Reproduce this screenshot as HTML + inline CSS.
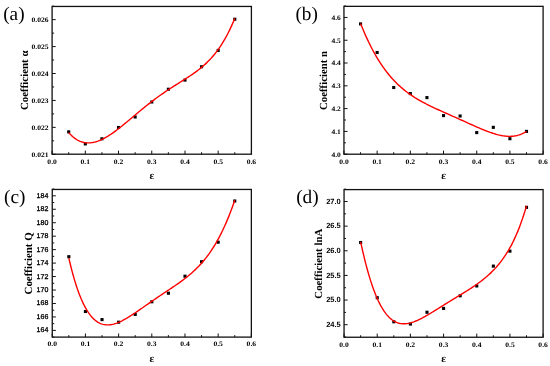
<!DOCTYPE html>
<html><head><meta charset="utf-8"><title>Coefficients vs strain</title><style>
html,body{margin:0;padding:0;background:#fff;width:550px;height:366px;overflow:hidden;}
svg{display:block;}
text{text-rendering:geometricPrecision;fill:#000;}
rect{fill:#000;}
.fr{fill:none;stroke:#111;stroke-width:1.3;}
.tk{fill:none;stroke:#111;stroke-width:1;}
.cv{fill:none;stroke:#ff0000;stroke-width:1.4;stroke-linejoin:round;}
.xt{font-family:'Liberation Serif', 'Times New Roman', serif;font-weight:bold;font-size:6.8px;text-anchor:middle;}
.yt{text-anchor:end;}
.xl{font-family:'Liberation Serif', 'Times New Roman', serif;font-weight:bold;font-size:11px;text-anchor:middle;}
.yl{font-family:'Liberation Serif', 'Times New Roman', serif;font-weight:bold;text-anchor:middle;}
.pl{font-family:'Liberation Serif', 'Times New Roman', serif;font-size:19.3px;}
</style></head><body>
<svg width="550" height="366" viewBox="0 0 550 366">
<rect width="550" height="366" style="fill:#fff"/>
<g>
<rect x="67.16" y="130.3" width="3.1" height="3.1"/>
<rect x="83.77" y="142.35" width="3.1" height="3.1"/>
<rect x="100.38" y="137.25" width="3.1" height="3.1"/>
<rect x="116.98" y="125.95" width="3.1" height="3.1"/>
<rect x="133.59" y="115.45" width="3.1" height="3.1"/>
<rect x="150.2" y="100.45" width="3.1" height="3.1"/>
<rect x="166.81" y="87.7" width="3.1" height="3.1"/>
<rect x="183.42" y="78.55" width="3.1" height="3.1"/>
<rect x="200.03" y="65.2" width="3.1" height="3.1"/>
<rect x="216.63" y="48.85" width="3.1" height="3.1"/>
<rect x="233.24" y="17.65" width="3.1" height="3.1"/>
<path class="cv" d="M68.71,132.65 L69.75,133.8 L70.8,134.87 L71.84,135.87 L72.89,136.79 L73.93,137.64 L74.98,138.42 L76.02,139.13 L77.06,139.78 L78.11,140.36 L79.15,140.87 L80.2,141.32 L81.24,141.72 L82.29,142.05 L83.33,142.33 L84.38,142.55 L85.42,142.72 L86.47,142.83 L87.51,142.9 L88.55,142.91 L89.6,142.88 L90.64,142.81 L91.69,142.68 L92.73,142.52 L93.78,142.31 L94.82,142.07 L95.87,141.78 L96.91,141.46 L97.96,141.1 L99,140.71 L100.04,140.28 L101.09,139.83 L102.13,139.34 L103.18,138.83 L104.22,138.28 L105.27,137.71 L106.31,137.12 L107.36,136.5 L108.4,135.86 L109.45,135.19 L110.49,134.51 L111.53,133.81 L112.58,133.09 L113.62,132.35 L114.67,131.6 L115.71,130.83 L116.76,130.05 L117.8,129.25 L118.85,128.45 L119.89,127.63 L120.94,126.8 L121.98,125.97 L123.02,125.12 L124.07,124.27 L125.11,123.41 L126.16,122.55 L127.2,121.68 L128.25,120.81 L129.29,119.94 L130.34,119.06 L131.38,118.18 L132.43,117.31 L133.47,116.43 L134.51,115.55 L135.56,114.67 L136.6,113.79 L137.65,112.92 L138.69,112.05 L139.74,111.18 L140.78,110.32 L141.83,109.46 L142.87,108.6 L143.92,107.75 L144.96,106.9 L146,106.06 L147.05,105.23 L148.09,104.4 L149.14,103.58 L150.18,102.76 L151.23,101.96 L152.27,101.16 L153.32,100.36 L154.36,99.58 L155.41,98.8 L156.45,98.03 L157.5,97.26 L158.54,96.51 L159.58,95.76 L160.63,95.02 L161.67,94.28 L162.72,93.56 L163.76,92.84 L164.81,92.12 L165.85,91.42 L166.9,90.72 L167.94,90.02 L168.99,89.33 L170.03,88.65 L171.07,87.97 L172.12,87.3 L173.16,86.63 L174.21,85.96 L175.25,85.3 L176.3,84.64 L177.34,83.98 L178.39,83.32 L179.43,82.67 L180.48,82.01 L181.52,81.36 L182.56,80.7 L183.61,80.04 L184.65,79.37 L185.7,78.71 L186.74,78.03 L187.79,77.35 L188.83,76.67 L189.88,75.98 L190.92,75.27 L191.97,74.56 L193.01,73.84 L194.05,73.11 L195.1,72.36 L196.14,71.6 L197.19,70.82 L198.23,70.02 L199.28,69.21 L200.32,68.37 L201.37,67.52 L202.41,66.64 L203.46,65.74 L204.5,64.81 L205.54,63.86 L206.59,62.87 L207.63,61.86 L208.68,60.81 L209.72,59.73 L210.77,58.61 L211.81,57.46 L212.86,56.26 L213.9,55.03 L214.95,53.75 L215.99,52.42 L217.03,51.05 L218.08,49.63 L219.12,48.16 L220.17,46.63 L221.21,45.05 L222.26,43.41 L223.3,41.71 L224.35,39.95 L225.39,38.12 L226.44,36.22 L227.48,34.26 L228.52,32.22 L229.57,30.11 L230.61,27.92 L231.66,25.65 L232.7,23.3 L233.75,20.86 L234.79,18.33"/>
<path class="tk" d="M52.1,154.2V150.6 M68.71,154.2V152.2 M85.32,154.2V150.6 M101.93,154.2V152.2 M118.53,154.2V150.6 M135.14,154.2V152.2 M151.75,154.2V150.6 M168.36,154.2V152.2 M184.97,154.2V150.6 M201.58,154.2V152.2 M218.18,154.2V150.6 M234.79,154.2V152.2 M251.4,154.2V150.6 M52.1,154.3H55.7 M52.1,140.83H54.1 M52.1,127.37H55.7 M52.1,113.91H54.1 M52.1,100.44H55.7 M52.1,86.98H54.1 M52.1,73.51H55.7 M52.1,60.04H54.1 M52.1,46.58H55.7 M52.1,33.11H54.1 M52.1,19.65H55.7 M52.1,6.18H54.1"/>
<rect class="fr" x="52.1" y="6.45" width="199.3" height="147.75"/>
<text transform="translate(52.1,163.5) scale(1.12,1)" class="xt">0.0</text>
<text transform="translate(85.32,163.5) scale(1.12,1)" class="xt">0.1</text>
<text transform="translate(118.53,163.5) scale(1.12,1)" class="xt">0.2</text>
<text transform="translate(151.75,163.5) scale(1.12,1)" class="xt">0.3</text>
<text transform="translate(184.97,163.5) scale(1.12,1)" class="xt">0.4</text>
<text transform="translate(218.18,163.5) scale(1.12,1)" class="xt">0.5</text>
<text transform="translate(251.4,163.5) scale(1.12,1)" class="xt">0.6</text>
<text transform="translate(48.6,156.5) scale(1.12,1)" class="yt" style="font-family:'Liberation Serif', 'Times New Roman', serif;font-weight:bold;font-size:6.8px">0.021</text>
<text transform="translate(48.6,129.57) scale(1.12,1)" class="yt" style="font-family:'Liberation Serif', 'Times New Roman', serif;font-weight:bold;font-size:6.8px">0.022</text>
<text transform="translate(48.6,102.64) scale(1.12,1)" class="yt" style="font-family:'Liberation Serif', 'Times New Roman', serif;font-weight:bold;font-size:6.8px">0.023</text>
<text transform="translate(48.6,75.71) scale(1.12,1)" class="yt" style="font-family:'Liberation Serif', 'Times New Roman', serif;font-weight:bold;font-size:6.8px">0.024</text>
<text transform="translate(48.6,48.78) scale(1.12,1)" class="yt" style="font-family:'Liberation Serif', 'Times New Roman', serif;font-weight:bold;font-size:6.8px">0.025</text>
<text transform="translate(48.6,21.85) scale(1.12,1)" class="yt" style="font-family:'Liberation Serif', 'Times New Roman', serif;font-weight:bold;font-size:6.8px">0.026</text>
<text x="151.75" y="179.2" class="xl">ε</text>
<text transform="translate(27.8,80.32) rotate(-90)" class="yl" style="font-size:10.9px">Coefficient α</text>
<text x="3.2" y="19.9" class="pl">(a)</text>
</g>
<g>
<rect x="359" y="22.35" width="3.1" height="3.1"/>
<rect x="375.59" y="50.95" width="3.1" height="3.1"/>
<rect x="392.19" y="85.95" width="3.1" height="3.1"/>
<rect x="408.78" y="92.05" width="3.1" height="3.1"/>
<rect x="425.38" y="96.05" width="3.1" height="3.1"/>
<rect x="441.98" y="114.05" width="3.1" height="3.1"/>
<rect x="458.57" y="114.45" width="3.1" height="3.1"/>
<rect x="475.17" y="131.05" width="3.1" height="3.1"/>
<rect x="491.76" y="125.8" width="3.1" height="3.1"/>
<rect x="508.36" y="137.15" width="3.1" height="3.1"/>
<rect x="524.95" y="129.85" width="3.1" height="3.1"/>
<path class="cv" d="M360.55,23.46 L361.59,26.06 L362.63,28.6 L363.68,31.08 L364.72,33.5 L365.76,35.85 L366.81,38.15 L367.85,40.38 L368.9,42.56 L369.94,44.68 L370.98,46.75 L372.03,48.76 L373.07,50.72 L374.11,52.63 L375.16,54.49 L376.2,56.3 L377.25,58.06 L378.29,59.77 L379.33,61.44 L380.38,63.06 L381.42,64.63 L382.46,66.16 L383.51,67.65 L384.55,69.1 L385.6,70.51 L386.64,71.88 L387.68,73.21 L388.73,74.51 L389.77,75.77 L390.81,76.99 L391.86,78.18 L392.9,79.34 L393.95,80.46 L394.99,81.55 L396.03,82.61 L397.08,83.65 L398.12,84.65 L399.17,85.63 L400.21,86.57 L401.25,87.5 L402.3,88.4 L403.34,89.27 L404.38,90.12 L405.43,90.95 L406.47,91.76 L407.52,92.55 L408.56,93.31 L409.6,94.06 L410.65,94.79 L411.69,95.5 L412.73,96.19 L413.78,96.87 L414.82,97.54 L415.87,98.18 L416.91,98.82 L417.95,99.44 L419,100.05 L420.04,100.64 L421.08,101.23 L422.13,101.8 L423.17,102.37 L424.22,102.92 L425.26,103.47 L426.3,104 L427.35,104.53 L428.39,105.06 L429.43,105.57 L430.48,106.08 L431.52,106.58 L432.57,107.08 L433.61,107.58 L434.65,108.06 L435.7,108.55 L436.74,109.03 L437.78,109.51 L438.83,109.99 L439.87,110.46 L440.92,110.93 L441.96,111.4 L443,111.87 L444.05,112.33 L445.09,112.8 L446.13,113.26 L447.18,113.73 L448.22,114.19 L449.27,114.66 L450.31,115.12 L451.35,115.59 L452.4,116.05 L453.44,116.52 L454.48,116.98 L455.53,117.45 L456.57,117.92 L457.62,118.39 L458.66,118.85 L459.7,119.32 L460.75,119.79 L461.79,120.26 L462.83,120.73 L463.88,121.21 L464.92,121.68 L465.97,122.15 L467.01,122.62 L468.05,123.09 L469.1,123.56 L470.14,124.03 L471.18,124.5 L472.23,124.97 L473.27,125.43 L474.32,125.9 L475.36,126.36 L476.4,126.82 L477.45,127.27 L478.49,127.72 L479.53,128.17 L480.58,128.61 L481.62,129.05 L482.67,129.48 L483.71,129.91 L484.75,130.33 L485.8,130.74 L486.84,131.15 L487.88,131.54 L488.93,131.93 L489.97,132.3 L491.02,132.67 L492.06,133.02 L493.1,133.36 L494.15,133.69 L495.19,134 L496.24,134.3 L497.28,134.58 L498.32,134.85 L499.37,135.09 L500.41,135.32 L501.45,135.53 L502.5,135.72 L503.54,135.88 L504.59,136.02 L505.63,136.14 L506.67,136.23 L507.72,136.3 L508.76,136.34 L509.8,136.34 L510.85,136.32 L511.89,136.27 L512.94,136.18 L513.98,136.06 L515.02,135.9 L516.07,135.7 L517.11,135.47 L518.15,135.19 L519.2,134.87 L520.24,134.51 L521.29,134.1 L522.33,133.65 L523.37,133.15 L524.42,132.59 L525.46,131.99 L526.5,131.33"/>
<path class="tk" d="M343.95,154.2V150.6 M360.55,154.2V152.2 M377.14,154.2V150.6 M393.74,154.2V152.2 M410.33,154.2V150.6 M426.93,154.2V152.2 M443.53,154.2V150.6 M460.12,154.2V152.2 M476.72,154.2V150.6 M493.31,154.2V152.2 M509.91,154.2V150.6 M526.5,154.2V152.2 M543.1,154.2V150.6 M343.95,154.2H347.55 M343.95,142.8H345.95 M343.95,131.41H347.55 M343.95,120.01H345.95 M343.95,108.62H347.55 M343.95,97.22H345.95 M343.95,85.82H347.55 M343.95,74.43H345.95 M343.95,63.03H347.55 M343.95,51.64H345.95 M343.95,40.24H347.55 M343.95,28.85H345.95 M343.95,17.45H347.55 M343.95,6.05H345.95"/>
<rect class="fr" x="343.95" y="6.35" width="199.15" height="147.85"/>
<text transform="translate(343.95,163.5) scale(1.12,1)" class="xt">0.0</text>
<text transform="translate(377.14,163.5) scale(1.12,1)" class="xt">0.1</text>
<text transform="translate(410.33,163.5) scale(1.12,1)" class="xt">0.2</text>
<text transform="translate(443.53,163.5) scale(1.12,1)" class="xt">0.3</text>
<text transform="translate(476.72,163.5) scale(1.12,1)" class="xt">0.4</text>
<text transform="translate(509.91,163.5) scale(1.12,1)" class="xt">0.5</text>
<text transform="translate(543.1,163.5) scale(1.12,1)" class="xt">0.6</text>
<text transform="translate(340.8,156.5) scale(1.1,1)" class="yt" style="font-family:'Liberation Serif', 'Times New Roman', serif;font-weight:bold;font-size:6.8px">4.0</text>
<text transform="translate(340.8,133.71) scale(1.1,1)" class="yt" style="font-family:'Liberation Serif', 'Times New Roman', serif;font-weight:bold;font-size:6.8px">4.1</text>
<text transform="translate(340.8,110.92) scale(1.1,1)" class="yt" style="font-family:'Liberation Serif', 'Times New Roman', serif;font-weight:bold;font-size:6.8px">4.2</text>
<text transform="translate(340.8,88.12) scale(1.1,1)" class="yt" style="font-family:'Liberation Serif', 'Times New Roman', serif;font-weight:bold;font-size:6.8px">4.3</text>
<text transform="translate(340.8,65.33) scale(1.1,1)" class="yt" style="font-family:'Liberation Serif', 'Times New Roman', serif;font-weight:bold;font-size:6.8px">4.4</text>
<text transform="translate(340.8,42.54) scale(1.1,1)" class="yt" style="font-family:'Liberation Serif', 'Times New Roman', serif;font-weight:bold;font-size:6.8px">4.5</text>
<text transform="translate(340.8,19.75) scale(1.1,1)" class="yt" style="font-family:'Liberation Serif', 'Times New Roman', serif;font-weight:bold;font-size:6.8px">4.6</text>
<text x="443.52" y="179.2" class="xl">ε</text>
<text transform="translate(327.3,80.47) rotate(-90)" class="yl" style="font-size:10.8px">Coefficient n</text>
<text x="295.4" y="19.9" class="pl">(b)</text>
</g>
<g>
<rect x="67.29" y="255.15" width="3.1" height="3.1"/>
<rect x="83.88" y="309.95" width="3.1" height="3.1"/>
<rect x="100.48" y="318.05" width="3.1" height="3.1"/>
<rect x="117.07" y="320.65" width="3.1" height="3.1"/>
<rect x="133.66" y="312.85" width="3.1" height="3.1"/>
<rect x="150.25" y="300.25" width="3.1" height="3.1"/>
<rect x="166.84" y="291.65" width="3.1" height="3.1"/>
<rect x="183.43" y="274.65" width="3.1" height="3.1"/>
<rect x="200.02" y="260.15" width="3.1" height="3.1"/>
<rect x="216.62" y="240.65" width="3.1" height="3.1"/>
<rect x="233.21" y="199.45" width="3.1" height="3.1"/>
<path class="cv" d="M68.84,258.04 L69.89,262.51 L70.93,266.78 L71.97,270.84 L73.02,274.71 L74.06,278.39 L75.1,281.89 L76.15,285.21 L77.19,288.35 L78.23,291.33 L79.28,294.14 L80.32,296.8 L81.36,299.31 L82.41,301.66 L83.45,303.88 L84.49,305.95 L85.54,307.9 L86.58,309.71 L87.62,311.4 L88.67,312.96 L89.71,314.41 L90.76,315.75 L91.8,316.98 L92.84,318.1 L93.89,319.13 L94.93,320.06 L95.97,320.89 L97.02,321.64 L98.06,322.3 L99.1,322.87 L100.15,323.37 L101.19,323.8 L102.23,324.15 L103.28,324.43 L104.32,324.64 L105.36,324.79 L106.41,324.88 L107.45,324.92 L108.49,324.9 L109.54,324.82 L110.58,324.7 L111.63,324.53 L112.67,324.32 L113.71,324.06 L114.76,323.76 L115.8,323.43 L116.84,323.06 L117.89,322.66 L118.93,322.23 L119.97,321.77 L121.02,321.28 L122.06,320.77 L123.1,320.23 L124.15,319.67 L125.19,319.09 L126.23,318.49 L127.28,317.88 L128.32,317.25 L129.36,316.61 L130.41,315.95 L131.45,315.28 L132.5,314.6 L133.54,313.91 L134.58,313.22 L135.63,312.52 L136.67,311.81 L137.71,311.09 L138.76,310.37 L139.8,309.65 L140.84,308.93 L141.89,308.2 L142.93,307.48 L143.97,306.75 L145.02,306.02 L146.06,305.29 L147.1,304.56 L148.15,303.84 L149.19,303.11 L150.23,302.39 L151.28,301.67 L152.32,300.95 L153.37,300.24 L154.41,299.52 L155.45,298.81 L156.5,298.1 L157.54,297.4 L158.58,296.69 L159.63,295.99 L160.67,295.29 L161.71,294.59 L162.76,293.9 L163.8,293.2 L164.84,292.51 L165.89,291.81 L166.93,291.12 L167.97,290.43 L169.02,289.73 L170.06,289.04 L171.1,288.34 L172.15,287.64 L173.19,286.93 L174.24,286.22 L175.28,285.51 L176.32,284.79 L177.37,284.07 L178.41,283.34 L179.45,282.6 L180.5,281.85 L181.54,281.09 L182.58,280.32 L183.63,279.54 L184.67,278.75 L185.71,277.94 L186.76,277.12 L187.8,276.28 L188.84,275.43 L189.89,274.55 L190.93,273.66 L191.97,272.75 L193.02,271.82 L194.06,270.86 L195.11,269.88 L196.15,268.87 L197.19,267.84 L198.24,266.77 L199.28,265.68 L200.32,264.56 L201.37,263.41 L202.41,262.22 L203.45,260.99 L204.5,259.73 L205.54,258.43 L206.58,257.1 L207.63,255.72 L208.67,254.3 L209.71,252.83 L210.76,251.32 L211.8,249.76 L212.84,248.15 L213.89,246.5 L214.93,244.79 L215.98,243.03 L217.02,241.21 L218.06,239.33 L219.11,237.4 L220.15,235.41 L221.19,233.35 L222.24,231.24 L223.28,229.05 L224.32,226.8 L225.37,224.49 L226.41,222.1 L227.45,219.64 L228.5,217.11 L229.54,214.5 L230.58,211.82 L231.63,209.06 L232.67,206.22 L233.71,203.29 L234.76,200.29"/>
<path class="tk" d="M52.25,337.1V333.5 M68.84,337.1V335.1 M85.43,337.1V333.5 M102.03,337.1V335.1 M118.62,337.1V333.5 M135.21,337.1V335.1 M151.8,337.1V333.5 M168.39,337.1V335.1 M184.98,337.1V333.5 M201.57,337.1V335.1 M218.17,337.1V333.5 M234.76,337.1V335.1 M251.35,337.1V333.5 M52.25,337.13H54.25 M52.25,330.4H55.85 M52.25,323.67H54.25 M52.25,316.94H55.85 M52.25,310.21H54.25 M52.25,303.48H55.85 M52.25,296.75H54.25 M52.25,290.02H55.85 M52.25,283.29H54.25 M52.25,276.56H55.85 M52.25,269.83H54.25 M52.25,263.1H55.85 M52.25,256.37H54.25 M52.25,249.64H55.85 M52.25,242.91H54.25 M52.25,236.18H55.85 M52.25,229.45H54.25 M52.25,222.72H55.85 M52.25,215.99H54.25 M52.25,209.26H55.85 M52.25,202.53H54.25 M52.25,195.8H55.85 M52.25,189.07H54.25"/>
<rect class="fr" x="52.25" y="189.45" width="199.1" height="147.65"/>
<text transform="translate(52.25,346.4) scale(1.12,1)" class="xt">0.0</text>
<text transform="translate(85.43,346.4) scale(1.12,1)" class="xt">0.1</text>
<text transform="translate(118.62,346.4) scale(1.12,1)" class="xt">0.2</text>
<text transform="translate(151.8,346.4) scale(1.12,1)" class="xt">0.3</text>
<text transform="translate(184.98,346.4) scale(1.12,1)" class="xt">0.4</text>
<text transform="translate(218.17,346.4) scale(1.12,1)" class="xt">0.5</text>
<text transform="translate(251.35,346.4) scale(1.12,1)" class="xt">0.6</text>
<text transform="translate(48.3,332.4) scale(1.0,1)" class="yt" style="font-family:'Liberation Sans', Arial, sans-serif;font-weight:normal;font-size:7.0px;stroke:#000;stroke-width:0.3">164</text>
<text transform="translate(48.3,318.94) scale(1.0,1)" class="yt" style="font-family:'Liberation Sans', Arial, sans-serif;font-weight:normal;font-size:7.0px;stroke:#000;stroke-width:0.3">166</text>
<text transform="translate(48.3,305.48) scale(1.0,1)" class="yt" style="font-family:'Liberation Sans', Arial, sans-serif;font-weight:normal;font-size:7.0px;stroke:#000;stroke-width:0.3">168</text>
<text transform="translate(48.3,292.02) scale(1.0,1)" class="yt" style="font-family:'Liberation Sans', Arial, sans-serif;font-weight:normal;font-size:7.0px;stroke:#000;stroke-width:0.3">170</text>
<text transform="translate(48.3,278.56) scale(1.0,1)" class="yt" style="font-family:'Liberation Sans', Arial, sans-serif;font-weight:normal;font-size:7.0px;stroke:#000;stroke-width:0.3">172</text>
<text transform="translate(48.3,265.1) scale(1.0,1)" class="yt" style="font-family:'Liberation Sans', Arial, sans-serif;font-weight:normal;font-size:7.0px;stroke:#000;stroke-width:0.3">174</text>
<text transform="translate(48.3,251.64) scale(1.0,1)" class="yt" style="font-family:'Liberation Sans', Arial, sans-serif;font-weight:normal;font-size:7.0px;stroke:#000;stroke-width:0.3">176</text>
<text transform="translate(48.3,238.18) scale(1.0,1)" class="yt" style="font-family:'Liberation Sans', Arial, sans-serif;font-weight:normal;font-size:7.0px;stroke:#000;stroke-width:0.3">178</text>
<text transform="translate(48.3,224.72) scale(1.0,1)" class="yt" style="font-family:'Liberation Sans', Arial, sans-serif;font-weight:normal;font-size:7.0px;stroke:#000;stroke-width:0.3">180</text>
<text transform="translate(48.3,211.26) scale(1.0,1)" class="yt" style="font-family:'Liberation Sans', Arial, sans-serif;font-weight:normal;font-size:7.0px;stroke:#000;stroke-width:0.3">182</text>
<text transform="translate(48.3,197.8) scale(1.0,1)" class="yt" style="font-family:'Liberation Sans', Arial, sans-serif;font-weight:normal;font-size:7.0px;stroke:#000;stroke-width:0.3">184</text>
<text x="151.8" y="362.1" class="xl">ε</text>
<text transform="translate(32,263.38) rotate(-90)" class="yl" style="font-size:10.95px">Coefficient Q</text>
<text x="4" y="202.5" class="pl">(c)</text>
</g>
<g>
<rect x="359.09" y="240.95" width="3.1" height="3.1"/>
<rect x="375.68" y="296.15" width="3.1" height="3.1"/>
<rect x="392.26" y="320.25" width="3.1" height="3.1"/>
<rect x="408.85" y="322.5" width="3.1" height="3.1"/>
<rect x="425.44" y="310.7" width="3.1" height="3.1"/>
<rect x="442.03" y="306.85" width="3.1" height="3.1"/>
<rect x="458.61" y="294.25" width="3.1" height="3.1"/>
<rect x="475.2" y="284.4" width="3.1" height="3.1"/>
<rect x="491.79" y="264.55" width="3.1" height="3.1"/>
<rect x="508.38" y="249.6" width="3.1" height="3.1"/>
<rect x="524.96" y="205.8" width="3.1" height="3.1"/>
<path class="cv" d="M360.64,241.81 L361.68,246.62 L362.72,251.25 L363.77,255.7 L364.81,259.98 L365.85,264.08 L366.9,268.02 L367.94,271.79 L368.98,275.39 L370.03,278.84 L371.07,282.12 L372.11,285.25 L373.16,288.23 L374.2,291.06 L375.24,293.74 L376.29,296.29 L377.33,298.69 L378.37,300.96 L379.42,303.09 L380.46,305.1 L381.5,306.98 L382.55,308.74 L383.59,310.39 L384.63,311.92 L385.68,313.34 L386.72,314.65 L387.76,315.85 L388.8,316.96 L389.85,317.97 L390.89,318.89 L391.93,319.71 L392.98,320.46 L394.02,321.11 L395.06,321.69 L396.11,322.19 L397.15,322.62 L398.19,322.97 L399.24,323.26 L400.28,323.49 L401.32,323.65 L402.37,323.75 L403.41,323.8 L404.45,323.8 L405.5,323.75 L406.54,323.64 L407.58,323.5 L408.63,323.31 L409.67,323.08 L410.71,322.82 L411.76,322.51 L412.8,322.18 L413.84,321.82 L414.89,321.42 L415.93,321 L416.97,320.56 L418.02,320.09 L419.06,319.6 L420.1,319.09 L421.15,318.56 L422.19,318.02 L423.23,317.46 L424.28,316.89 L425.32,316.3 L426.36,315.71 L427.4,315.11 L428.45,314.49 L429.49,313.87 L430.53,313.25 L431.58,312.61 L432.62,311.98 L433.66,311.33 L434.71,310.69 L435.75,310.04 L436.79,309.4 L437.84,308.75 L438.88,308.1 L439.92,307.45 L440.97,306.8 L442.01,306.14 L443.05,305.5 L444.1,304.85 L445.14,304.2 L446.18,303.55 L447.23,302.91 L448.27,302.26 L449.31,301.62 L450.36,300.98 L451.4,300.34 L452.44,299.7 L453.49,299.07 L454.53,298.43 L455.57,297.79 L456.62,297.16 L457.66,296.52 L458.7,295.89 L459.75,295.25 L460.79,294.61 L461.83,293.97 L462.87,293.33 L463.92,292.68 L464.96,292.04 L466,291.38 L467.05,290.73 L468.09,290.07 L469.13,289.4 L470.18,288.73 L471.22,288.05 L472.26,287.36 L473.31,286.67 L474.35,285.96 L475.39,285.25 L476.44,284.52 L477.48,283.78 L478.52,283.03 L479.57,282.27 L480.61,281.49 L481.65,280.69 L482.7,279.88 L483.74,279.05 L484.78,278.2 L485.83,277.33 L486.87,276.44 L487.91,275.53 L488.96,274.59 L490,273.62 L491.04,272.63 L492.09,271.61 L493.13,270.56 L494.17,269.47 L495.22,268.36 L496.26,267.2 L497.3,266.01 L498.35,264.78 L499.39,263.51 L500.43,262.19 L501.47,260.83 L502.52,259.42 L503.56,257.96 L504.6,256.44 L505.65,254.87 L506.69,253.24 L507.73,251.54 L508.78,249.78 L509.82,247.95 L510.86,246.05 L511.91,244.07 L512.95,242.01 L513.99,239.87 L515.04,237.63 L516.08,235.31 L517.12,232.89 L518.17,230.36 L519.21,227.73 L520.25,224.98 L521.3,222.11 L522.34,219.13 L523.38,216 L524.43,212.75 L525.47,209.34 L526.51,205.79"/>
<path class="tk" d="M344.05,337.25V333.65 M360.64,337.25V335.25 M377.23,337.25V333.65 M393.81,337.25V335.25 M410.4,337.25V333.65 M426.99,337.25V335.25 M443.58,337.25V333.65 M460.16,337.25V335.25 M476.75,337.25V333.65 M493.34,337.25V335.25 M509.93,337.25V333.65 M526.51,337.25V335.25 M543.1,337.25V333.65 M344.05,337.02H346.05 M344.05,324.7H347.65 M344.05,312.38H346.05 M344.05,300.06H347.65 M344.05,287.74H346.05 M344.05,275.42H347.65 M344.05,263.1H346.05 M344.05,250.78H347.65 M344.05,238.46H346.05 M344.05,226.14H347.65 M344.05,213.82H346.05 M344.05,201.5H347.65 M344.05,189.18H346.05"/>
<rect class="fr" x="344.05" y="189.6" width="199.05" height="147.65"/>
<text transform="translate(344.05,346.55) scale(1.12,1)" class="xt">0.0</text>
<text transform="translate(377.23,346.55) scale(1.12,1)" class="xt">0.1</text>
<text transform="translate(410.4,346.55) scale(1.12,1)" class="xt">0.2</text>
<text transform="translate(443.58,346.55) scale(1.12,1)" class="xt">0.3</text>
<text transform="translate(476.75,346.55) scale(1.12,1)" class="xt">0.4</text>
<text transform="translate(509.93,346.55) scale(1.12,1)" class="xt">0.5</text>
<text transform="translate(543.1,346.55) scale(1.12,1)" class="xt">0.6</text>
<text transform="translate(340.8,326.8) scale(1.0,1)" class="yt" style="font-family:'Liberation Sans', Arial, sans-serif;font-weight:bold;font-size:7.5px">24.5</text>
<text transform="translate(340.8,302.16) scale(1.0,1)" class="yt" style="font-family:'Liberation Sans', Arial, sans-serif;font-weight:bold;font-size:7.5px">25.0</text>
<text transform="translate(340.8,277.52) scale(1.0,1)" class="yt" style="font-family:'Liberation Sans', Arial, sans-serif;font-weight:bold;font-size:7.5px">25.5</text>
<text transform="translate(340.8,252.88) scale(1.0,1)" class="yt" style="font-family:'Liberation Sans', Arial, sans-serif;font-weight:bold;font-size:7.5px">26.0</text>
<text transform="translate(340.8,228.24) scale(1.0,1)" class="yt" style="font-family:'Liberation Sans', Arial, sans-serif;font-weight:bold;font-size:7.5px">26.5</text>
<text transform="translate(340.8,203.6) scale(1.0,1)" class="yt" style="font-family:'Liberation Sans', Arial, sans-serif;font-weight:bold;font-size:7.5px">27.0</text>
<text x="443.58" y="362.25" class="xl">ε</text>
<text transform="translate(321.8,263.73) rotate(-90)" class="yl" style="font-size:10.8px">Coefficient lnA</text>
<text x="296.2" y="202.5" class="pl">(d)</text>
</g>
</svg>
</body></html>
